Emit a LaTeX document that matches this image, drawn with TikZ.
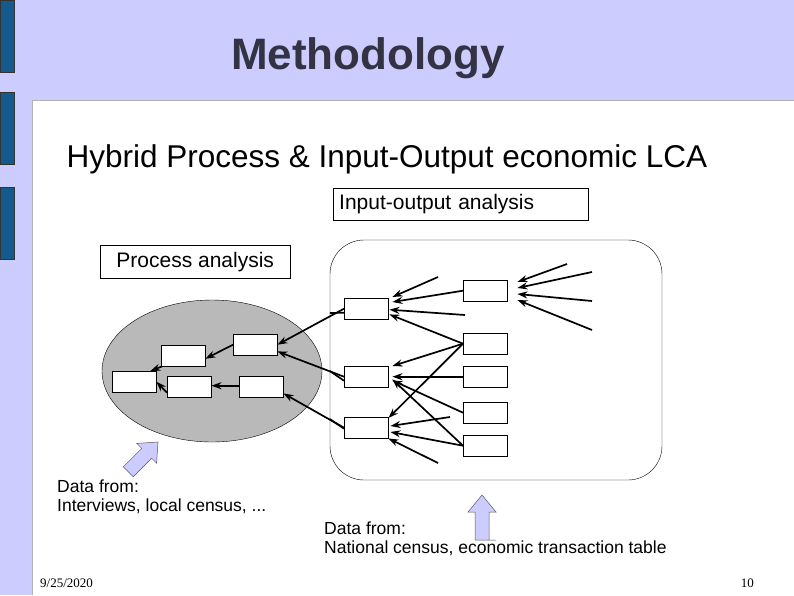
\documentclass[tikz,border=0pt]{standalone}
\usetikzlibrary{shapes.geometric,arrows.meta}
\usepackage{fontspec}
\setmainfont{Liberation Sans}
\newfontfamily\serifnarrow{Liberation Serif}
\definecolor{lav}{RGB}{204,204,255}
\definecolor{barblue}{RGB}{20,90,140}
\definecolor{titlegray}{RGB}{51,51,68}
\begin{document}
\begin{tikzpicture}[x=1pt,y=-1pt,
  bx/.style={draw,fill=white,inner sep=0pt,minimum width=44pt,minimum height=21pt},
  ar/.style={-{Stealth[length=10pt,width=7pt]},line width=1.7pt},
  lbl/.style={draw,fill=white,inner sep=3pt,anchor=north west,font=\fontsize{21}{24}\selectfont,text height=16pt,text depth=5pt},
  fat/.style={draw=gray!70!black,fill=lav,line width=0.5pt}]
\useasboundingbox (0,0) rectangle (794,595);
\fill[lav] (0,0) rectangle (794,595);
\fill[white] (32,100) rectangle (794,595);
\draw[gray!60,line width=0.6pt] (32,595) -- (32,100) -- (794,100);
\foreach \a/\b in {0/72,92/164,187/259}
  \filldraw[fill=barblue,draw=black!80] (0,\a) rectangle (14,\b);
\node[font=\bfseries\fontsize{44}{48}\selectfont,text=titlegray] (title) at (368,58) {Methodology};
\node[font=\fontsize{31.5}{35}\selectfont,anchor=west] (sub) at (63,159) {Hybrid Process \& Input-Output economic LCA};
\node[lbl,text width=243pt,align=left,minimum height=32pt,inner xsep=6pt] (iolbl) at (333,188) {Input-output analysis};
% process ellipse
\node[draw,fill=gray!55,ellipse,minimum width=220pt,minimum height=142pt,inner sep=0pt] (ell) at (212,371) {};
\node[lbl,minimum width=190pt,minimum height=33pt,inner xsep=6pt] (plbl) at (100,245) {Process analysis};
\node[draw,rounded corners=34pt,minimum width=332pt,minimum height=240pt,inner sep=0pt] (io) at (496,360) {};
% process boxes
\node[bx,anchor=north west] (A) at (233,334) {};
\node[bx,anchor=north west] (B) at (161,345) {};
\node[bx,anchor=north west] (C) at (112,371) {};
\node[bx,anchor=north west] (D) at (167,376) {};
\node[bx,anchor=north west] (E) at (239,376) {};
% IO boxes
\node[bx,anchor=north west] (L1) at (344,298) {};
\node[bx,anchor=north west] (L2) at (344,366) {};
\node[bx,anchor=north west] (L3) at (344,417) {};
\node[bx,anchor=north west] (R1) at (463,280) {};
\node[bx,anchor=north west] (R2) at (463,333) {};
\node[bx,anchor=north west] (R3) at (463,366) {};
\node[bx,anchor=north west] (R4) at (463,402) {};
\node[bx,anchor=north west] (R5) at (463,435) {};
% free ends
\foreach \n/\x/\y in {t1/438/277,t2/465/315,t3/567/264,t4/592/272,t5/592/301,t6/592/330,t7/450/417,t8/438/463}
  \coordinate (\n) at (\x,\y);
% process arrows
\draw[ar] (L1.west) -- (A.east);
\draw[ar] (L2.west) -- ([shift={(0,-4)}]A.south east);
\draw[ar] (L3.west) -- ([shift={(0,-4)}]E.south east);
\draw[ar] (A.west) -- ([shift={(0,3)}]B.east);
\draw[ar] ([shift={(1,0)}]B.south west) -- ([shift={(-6,0)}]C.north east);
\draw[ar] ([shift={(0,6)}]D.west) -- (C.east);
\draw[ar] ([shift={(0,-1)}]E.west) -- ([shift={(0,-1)}]D.east);
% IO arrows
\draw[ar] (t1) -- ([shift={(4,-1)}]L1.north east);
\draw[ar] (R1.west) -- ([shift={(4,4)}]L1.north east);
\draw[ar] (t2) -- ([shift={(1,1)}]L1.east);
\draw[ar] (R2.west) -- ([shift={(1,-5)}]L1.south east);
\draw[ar] (t3) -- ([shift={(10,2)}]R1.north east);
\draw[ar] (t4) -- ([shift={(10,8)}]R1.north east);
\draw[ar] (t5) -- ([shift={(10,14)}]R1.north east);
\draw[ar] (t6) -- ([shift={(10,20)}]R1.north east);
\draw[ar] (R2.west) -- ([shift={(4,0)}]L2.north east);
\draw[ar] (R3.west) -- ([shift={(4,0)}]L2.east);
\draw[ar] (R4.west) -- ([shift={(4,-7)}]L2.south east);
\draw[ar] (R5.west) -- ([shift={(4,-8)}]L2.south east);
\draw[ar] (R2.west) -- ([shift={(0,1)}]L3.north east);
\draw[ar] (t7) -- ([shift={(2,9)}]L3.north east);
\draw[ar] (R5.west) -- ([shift={(2,15)}]L3.north east);
\draw[ar] (t8) -- (L3.south east);
\draw[line width=1.7pt] (io.west |- 0,313) -- ([shift={(0,4)}]L1.west);
\draw[line width=1.7pt] (io.west |- 0,371) -- ([shift={(0,4)}]L2.west);
\draw[line width=1.7pt] (io.west |- 0,419) -- ([shift={(0,1)}]L3.west);
% fat arrows
\draw[fat] (496,540) -- (489,540) -- (489,512) -- (496,512) -- (482,495) -- (468,512) -- (475,512) -- (475,540) -- cycle;
\begin{scope}[shift={(158,442)},rotate=-45]
\draw[fat] (7,42) -- (-7,42) -- (-7,16) -- (-14,16) -- (0,0) -- (14,16) -- (7,16) -- cycle;
\end{scope}
\node[anchor=north west,align=left,font=\fontsize{17.5}{19}\selectfont,inner sep=0pt] (d1) at (57,480) {Data from:\\Interviews, local census, ...};
\node[anchor=north west,align=left,font=\fontsize{17.5}{19}\selectfont,inner sep=0pt] (d2) at (324,522) {Data from:\\National census, economic transaction table};
\node[anchor=west,font=\serifnarrow\fontsize{13}{15}\selectfont,inner sep=0pt] (date) at (40,583) {9/25/2020};
\node[anchor=east,font=\serifnarrow\fontsize{13}{15}\selectfont,inner sep=0pt] (pg) at (754,583) {10};
\end{tikzpicture}
\end{document}
